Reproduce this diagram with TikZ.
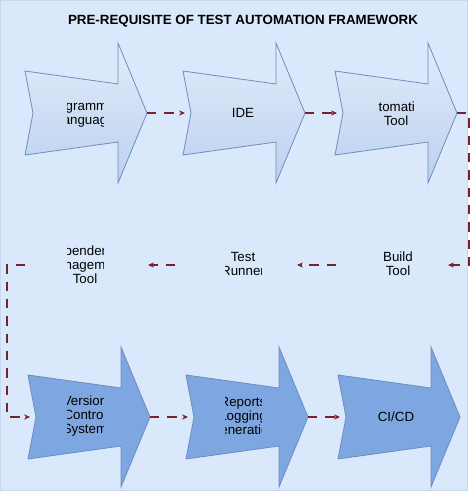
\documentclass[tikz,border=0pt]{standalone}
\usepackage{fontspec}
\setmainfont{Liberation Sans}
\usetikzlibrary{arrows.meta}

\definecolor{panelblue}{HTML}{DAE8FC}
\definecolor{panelline}{HTML}{C8D7EC}
\definecolor{chevline}{HTML}{6C8EBF}
\definecolor{chevtop}{HTML}{E2ECFA}
\definecolor{chevbot}{HTML}{BCD0EE}
\definecolor{chevfill}{HTML}{7EA6E0}
\definecolor{linkred}{HTML}{7A1F2B}

\tikzset{
  toprow/.style={draw=chevline, line width=0.6pt, top color=chevtop, bottom color=chevbot},
  botrow/.style={draw=chevline, line width=0.6pt, fill=chevfill},
  lbl/.style={align=center, font=\fontsize{10}{10.5}\selectfont, inner sep=0pt},
  link/.style={draw=linkred, line width=1pt, dash pattern=on 7pt off 6pt,
    -{Stealth[length=4.5pt,width=4pt]}},
}

% chevron: name, left x, centre y, style
\newcommand{\chevron}[4]{%
  \draw[#4, shift={(#2,#3)}] (0,-42) -- (93,-29) -- (93,-70) -- (122,0)
    -- (93,70) -- (93,29) -- (0,42) -- (8,0) -- cycle;
  \coordinate (#1-in) at (#2+2,#3);
  \coordinate (#1-out) at (#2+122,#3);
}

% label cut to the width of its box: name, x, y, text
\newcommand{\cliplabel}[4]{%
  \begin{scope}
    \clip (#2-18,#3-35) rectangle (#2+18,#3+35);
    \node[lbl] (#1) at (#2,#3) {#4};
  \end{scope}
}

\begin{document}
\begin{tikzpicture}[x=0.75pt, y=-0.75pt]
    \useasboundingbox (0,0) rectangle (474,493);
    \fill[white] (0,0) rectangle (474,493);
    \draw[panelline, fill=panelblue] (0.5,0.5) rectangle (467,490);

    \node[font=\fontsize{10}{12}\selectfont\bfseries] (title) at (243,21)
        {PRE-REQUISITE OF TEST AUTOMATION FRAMEWORK};

    % top row
    \chevron{lang}{25}{113}{toprow}
    \chevron{ide}{183}{113}{toprow}
    \chevron{auto}{335}{113}{toprow}
    \cliplabel{langtxt}{85}{114}{Programming\\Language}
    \node[lbl] (idetxt) at (243,113) {IDE};
    \cliplabel{autotxt}{396}{114}{Automation\\Tool}

    % middle row (no shapes)
    \cliplabel{dep}{85}{265}{Dependency\\Management\\Tool}
    \cliplabel{runner}{243}{264}{Test\\Runner}
    \node[lbl] (build) at (398,264) {Build\\Tool};
    \coordinate (build-in) at (448,265);
    \coordinate (build-out) at (336,265);
    \coordinate (runner-in) at (297,265);
    \coordinate (runner-out) at (175,265);
    \coordinate (dep-in) at (148,265);
    \coordinate (dep-out) at (25,265);

    % bottom row
    \chevron{vcs}{28}{417}{botrow}
    \chevron{rep}{186}{417}{botrow}
    \chevron{cicd}{338}{417}{botrow}
    \cliplabel{vcstxt}{85}{416}{Version\\Control\\System}
    \cliplabel{reptxt}{243}{416}{Reports\\Logging\\Generation}
    \node[lbl] (cicdtxt) at (396,417) {CI/CD};

    % connectors
    \draw[link] (lang-out) -- (ide-in);
    \draw[link] (ide-out) -- (auto-in);
    \draw[link] (auto-out) -- ++(12,0) |- (build-in);
    \draw[link] (build-out) -- (runner-in);
    \draw[link] (runner-out) -- (dep-in);
    \draw[link] (dep-out) -- ++(-18,0) |- (vcs-in);
    \draw[link] (vcs-out) -- (rep-in);
    \draw[link] (rep-out) -- (cicd-in);
\end{tikzpicture}
\end{document}
